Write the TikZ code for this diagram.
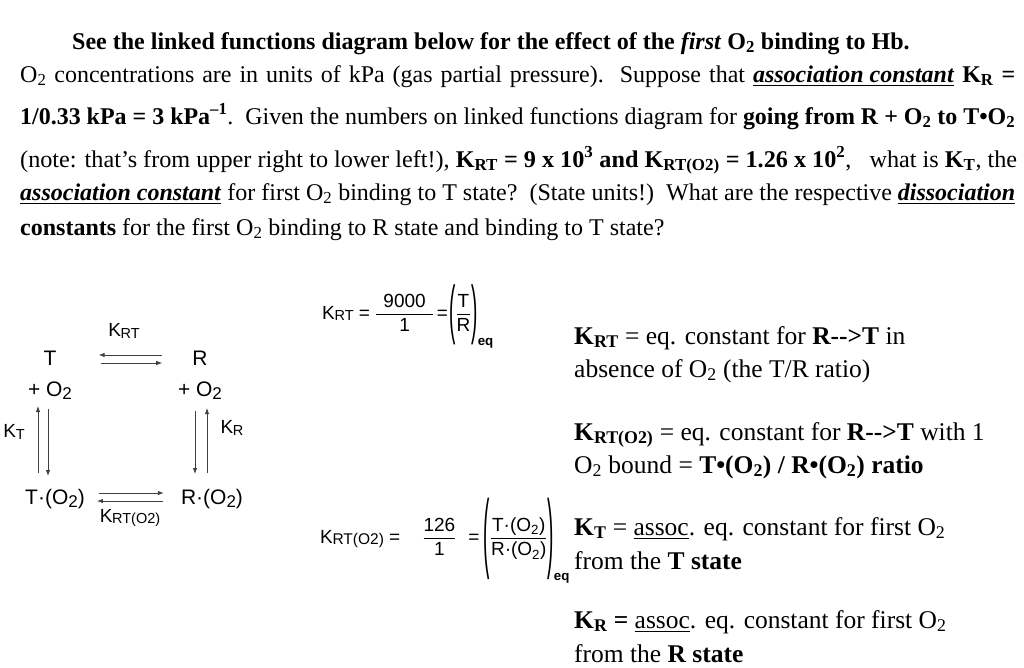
\documentclass[tikz,border=0pt]{standalone}
\usepackage{amsmath}
\usepackage{graphicx}
\usepackage{fontspec}
\setmainfont{Liberation Serif}
\setsansfont{Liberation Sans}
\usetikzlibrary{arrows.meta, positioning}

\newsavebox{\linebox}
\newcommand{\fitline}[1]{\sbox{\linebox}{#1}\ifdim\wd\linebox>995pt\resizebox{995pt}{\height}{\usebox{\linebox}}\else\makebox[995pt][s]{#1}\fi}
\newcommand{\Ksub}[2][12.5]{K\kern-0.3pt\raisebox{-1.5pt}{\fontsize{#1}{#1}\selectfont #2}}
\newcommand{\Otwo}{O\raisebox{-3pt}{\fontsize{17}{17}\selectfont 2}}
\newcommand{\tallpar}[2][4.4]{\vcenter{\hbox{\scalebox{1}[#1]{#2}}}}
\definecolor{arrowgray}{gray}{0.25}

\begin{document}
\begin{tikzpicture}[x=1pt,y=-1pt,>={Latex[length=6pt,width=4.5pt]},node distance=100pt,on grid,
txt/.style={anchor=base west,inner sep=0pt,font=\fontsize{24}{26}\selectfont},
side/.style={anchor=base west,inner sep=0pt,font=\fontsize{25.5}{28}\selectfont},
state/.style={inner sep=2pt,font=\sffamily\fontsize{21}{21}\selectfont},
klabel/.style={inner sep=0pt,font=\sffamily\fontsize{19}{19}\selectfont},
eqn/.style={anchor=base west,inner sep=0pt,font=\sffamily\fontsize{19}{21}\selectfont}]

\useasboundingbox (0,0) rectangle (1024,667);

    \node[txt] (q1) at (72,49) {\bfseries See the linked functions diagram below for the effect of the \textit{first} O\textsubscript{2} binding to Hb.};
    \node[txt] (q2) at (20,82) {\fitline{O\textsubscript{2} concentrations are in units of kPa (gas partial pressure).\ \ Suppose that \underline{\textbf{\textit{association constant}}} \textbf{K\textsubscript{R} =}}};
    \node[txt] (q3) at (20,124) {\fitline{\textbf{1/0.33 kPa = 3 kPa\textsuperscript{--1}}.\ \ Given the numbers on linked functions diagram for \textbf{going from R + O\textsubscript{2} to T•O\textsubscript{2}}}};
    \node[txt] (q4) at (20,167) {\resizebox{997pt}{\height}{(note: that’s from upper right to lower left!),\ \textbf{K\textsubscript{RT} = 9 x 10\textsuperscript{3} and K\textsubscript{RT(O2)} = 1.26 x 10\textsuperscript{2}},\ \ \ what is \textbf{K\textsubscript{T}}, the}};
    \node[txt] (q5) at (20,200) {\fitline{\underline{\textbf{\textit{association constant}}} for first O\textsubscript{2} binding to T state?\ \ (State units!)\ \ What are the respective \underline{\textbf{\textit{dissociation}}}}};
    \node[txt] (q6) at (20,235) {\textbf{constants} for the first O\textsubscript{2} binding to R state and binding to T state?};

    \node[state] (T) at (50,358) {T};
    \node[state] (R) [right=150pt of T] {R};
    \node[state] (Tplus) [below=33pt of T] {+ \Otwo};
    \node[state] (Rplus) [below=33pt of R] {+ \Otwo};
    \node[state] (TO2) [below=108pt of Tplus, xshift=5pt] {T·(\Otwo)};
    \node[state] (RO2) [below=108pt of Rplus, xshift=12pt] {R·(\Otwo)};

    \node[klabel] (kRT) at (124,331) {\Ksub[14.5]{RT}};
    \node[klabel] (kT) at (14,432) {\Ksub[14.5]{T}};
    \node[klabel] (kR) at (232,428) {\Ksub[14.5]{R}};
    \node[klabel] (kRTO2) at (130,518) {\Ksub[14.5]{RT(O2)}};

    \tikzset{eqarrow/.style={->,arrowgray,line width=0.9pt,shorten <=#1}}
    \path ([yshift=3pt]R.west) edge [eqarrow=28pt, shorten >=40pt] ([yshift=3pt]T.east);
    \path ([yshift=-5pt]T.east) edge [eqarrow=42pt, shorten >=28pt] ([yshift=-5pt]R.west);
    \path ([yshift=6pt]TO2.east) edge [eqarrow=12pt, shorten >=15pt] ([yshift=6pt]RO2.west);
    \path ([yshift=-2pt]RO2.west) edge [eqarrow=16pt, shorten >=10pt] ([yshift=-2pt]TO2.east);
    \path ([xshift=-12pt]Tplus.south |- TO2.north) edge [eqarrow=14pt, shorten >=4pt] ([xshift=-12pt]Tplus.south);
    \path ([xshift=-2pt]Tplus.south) edge [eqarrow=7pt, shorten >=11pt] ([xshift=-2pt]Tplus.south |- TO2.north);
    \path ([xshift=-5pt]Rplus.south) edge [eqarrow=9pt, shorten >=13pt] ([xshift=-5pt]Rplus.south |- RO2.north);
    \path ([xshift=7pt]Rplus.south |- RO2.north) edge [eqarrow=14pt, shorten >=6pt] ([xshift=7pt]Rplus.south);

    \node[eqn] (eqRT) at (322,319) {\Ksub[14.5]{RT} = $\genfrac{}{}{1pt}{0}{\hspace{7pt}\text{9000}\hspace{7pt}}{\text{1}}$\hspace{3pt}=\hspace{1pt}$\tallpar[3.4]{(}\genfrac{}{}{1pt}{0}{\text{T}}{\text{R}}\tallpar[3.4]{)}_{\text{\bfseries eq}}$};
    \node[eqn] (eqRTO2) at (320,543) {\Ksub[15.5]{RT(O2)} =\hspace{22pt}$\genfrac{}{}{1pt}{0}{\text{126}}{\text{1}}$\hspace{12pt}=\hspace{4pt}$\tallpar[4.6]{(}\genfrac{}{}{1pt}{0}{\text{T·(O\textsubscript{2})}}{\text{R·(O\textsubscript{2})}}\tallpar[4.6]{)}_{\text{\bfseries eq}}$};

    \node[side] (dRT1) at (574,344) {\textbf{K\textsubscript{RT}} = eq. constant for \textbf{R-{}-{}>T} in};
    \node[side] (dRT2) at (574,377) {absence of O\textsubscript{2} (the T/R ratio)};
    \node[side] (dRTO1) at (574,440) {\textbf{K\textsubscript{RT(O2)}} = eq. constant for \textbf{R-{}-{}>T} with 1};
    \node[side] (dRTO2) at (574,473) {O\textsubscript{2} bound = \textbf{T•(O\textsubscript{2}) / R•(O\textsubscript{2}) ratio}};
    \node[side] (dT1) at (574,535) {\textbf{K\textsubscript{T}} = \underline{assoc}. eq. constant for first O\textsubscript{2}};
    \node[side] (dT2) at (574,569) {from the \textbf{T state}};
    \node[side] (dR1) at (574,628) {\textbf{K\textsubscript{R} =} \underline{assoc}. eq. constant for first O\textsubscript{2}};
    \node[side] (dR2) at (574,662) {from the \textbf{R state}};

\end{tikzpicture}
\end{document}
